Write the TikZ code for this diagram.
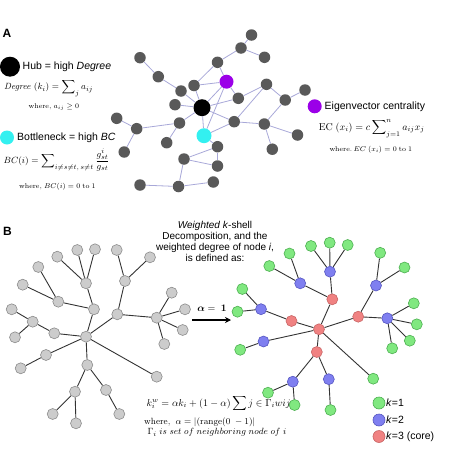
\documentclass[tikz,border=0pt]{standalone}
\usepackage{amsmath,amssymb}
\usepackage[no-math]{fontspec}
\setmainfont{Liberation Sans}
\usetikzlibrary{arrows.meta}
\definecolor{edgeA}{HTML}{A8A8D8}
\definecolor{nodeA}{HTML}{595959}
\definecolor{hubc}{HTML}{000000}
\definecolor{purp}{HTML}{9B00E8}
\definecolor{cyanc}{HTML}{33F0F0}
\definecolor{grayfill}{HTML}{CCCCCC}
\definecolor{graydraw}{HTML}{8C8C8C}
\definecolor{edgeB}{HTML}{333333}
\definecolor{kone}{HTML}{80E880}
\definecolor{konedraw}{HTML}{4CAF50}
\definecolor{ktwo}{HTML}{7F7FF0}
\definecolor{ktwodraw}{HTML}{5555C0}
\definecolor{kthree}{HTML}{F08282}
\definecolor{kthreedraw}{HTML}{C86464}
\tikzset{
  an/.style={circle,fill=nodeA,inner sep=0pt,minimum size=11.5pt},
  hubn/.style={circle,fill=hubc,inner sep=0pt,minimum size=17pt},
  purn/.style={circle,fill=purp,inner sep=0pt,minimum size=14pt},
  cyn/.style={circle,fill=cyanc,inner sep=0pt,minimum size=15pt},
  ea/.style={draw=edgeA,line width=0.8pt},
  gb/.style={circle,fill=grayfill,draw=graydraw,line width=0.6pt,inner sep=0pt,minimum size=11pt},
  k1/.style={circle,fill=kone,draw=konedraw,line width=0.6pt,inner sep=0pt,minimum size=11pt},
  k2/.style={circle,fill=ktwo,draw=ktwodraw,line width=0.6pt,inner sep=0pt,minimum size=11pt},
  k3/.style={circle,fill=kthree,draw=kthreedraw,line width=0.6pt,inner sep=0pt,minimum size=11pt},
  eb/.style={draw=edgeB,line width=0.9pt},
  txt/.style={anchor=west,inner sep=0pt,font=\fontsize{10.5}{12}\selectfont},
  mth/.style={anchor=west,inner sep=0pt,font=\fontsize{9.5}{11}\selectfont},
  small/.style={anchor=west,inner sep=0pt,font=\fontsize{7.5}{9}\selectfont},
  lbl/.style={inner sep=0pt,font=\fontsize{12}{14}\selectfont\bfseries},
}
\begin{document}
\begin{tikzpicture}[x=1pt,y=-1pt]
\useasboundingbox (0,0) rectangle (474,474);
% ---------- Panel A ----------
\node[lbl] (labA) at (7,33.5) {A};
\node[an] (a1) at (251.5,35) {};
\node[an] (a2) at (241,48) {};
\node[an] (a3) at (264.5,57.3) {};
\node[an] (a4) at (217.5,62.3) {};
\node[an] (a5) at (140,57.7) {};
\node[an] (a6) at (158.3,76.7) {};
\node[an] (a7) at (181,91) {};
\node[an] (a8) at (194,85.5) {};
\node[an] (a9) at (238.3,98.3) {};
\node[an] (a10) at (266.5,84.3) {};
\node[an] (a11) at (285.2,100) {};
\node[an] (a12) at (305,90) {};
\node[an] (a13) at (175,104.7) {};
\node[an] (a14) at (234.2,121.7) {};
\node[an] (a15) at (264.3,124) {};
\node[an] (a16) at (297.5,135) {};
\node[an] (a17) at (272.3,149.2) {};
\node[an] (a18) at (179.5,123) {};
\node[an] (a19) at (116.7,118.3) {};
\node[an] (a20) at (136.7,128.7) {};
\node[an] (a21) at (124.2,152) {};
\node[an] (a22) at (166.7,142.7) {};
\node[an] (a23) at (217.5,146.7) {};
\node[an] (a24) at (184,159) {};
\node[an] (a25) at (217.5,166) {};
\node[an] (a26) at (213.3,182) {};
\node[an] (a27) at (178.5,186.5) {};
\node[an] (a28) at (140,185) {};
\node[purn] (P) at (226.5,81.7) {};
\node[hubn] (H) at (202,107.7) {};
\node[cyn] (C) at (204,135.7) {};
\foreach \u/\v in {a1/a2,a2/a3,a2/a4,a4/a8,a4/P,a5/a6,a6/a7,a7/H,a8/H,a8/P,a13/H,P/H,P/a9,P/C,H/a9,H/a14,H/C,H/a18,a18/a20,a18/a22,a19/a20,a20/a21,C/a14,a14/a10,a9/a10,a10/a11,a11/a12,a11/a15,a14/a15,a15/a16,a15/a17,C/a23,a23/a24,a23/a25,a24/a25,a24/a27,a27/a26,a27/a28}
  \draw[ea] (\u) -- (\v);
% legends A
\node[circle,fill=hubc,inner sep=0pt,minimum size=20pt] (lh) at (10,66.7) {};
\node[txt] (th) at (22.5,66.7) {Hub = high \textit{Degree}};
\node[mth] (fh) at (4,88.5) {$\mathit{Degree}\ (k_i) = \displaystyle\sum\nolimits_j a_{ij}$};
\node[small] (wh) at (28.5,107.3) {$\mathrm{where,}\ a_{ij}\geq 0$};
\node[circle,fill=cyanc,inner sep=0pt,minimum size=14pt] (lc) at (7,137.5) {};
\node[txt] (tc) at (17,137.7) {Bottleneck = high \textit{BC}};
\node[mth] (fc) at (3.5,160) {$BC(i) = \displaystyle\sum\nolimits_{i\neq s\neq t,\, s\neq t} \frac{g^{i}_{st}}{g_{st}}$};
\node[small] (wc) at (19,186.7) {$\mathrm{where,}\ BC(i) = \mathrm{0\ to\ 1}$};
\node[circle,fill=purp,inner sep=0pt,minimum size=14pt] (lp) at (314.7,106.3) {};
\node[txt] (tp) at (324.5,106.5) {Eigenvector centrality};
\node[mth,font=\fontsize{10}{12}\selectfont] (fp) at (318.7,128.5) {$\mathrm{EC}\ (x_i) = c\displaystyle\sum\nolimits_{j=1}^{n} a_{ij}x_j$};
\node[small] (wp) at (329.3,150) {$\mathrm{where.}\,EC\ (x_i) = \mathrm{0\ to\ 1}$};
% ---------- Panel B ----------
\node[lbl] (labB) at (7.5,231.7) {B};
\node[inner sep=0pt,align=center,font=\fontsize{10}{11}\selectfont] (hdr) at (215,241.5) {\textit{Weighted k}-shell\\Decomposition, and the\\weighted degree of node \textit{i},\\is defined as:};
% gray tree
\node[gb] (G0) at (86,336.7) {};
\node[gb] (g1) at (94,309.3) {};
\node[gb] (g2) at (86,283.3) {};
\node[gb] (g3) at (57.3,256.7) {};
\node[gb] (g4) at (77.3,250) {};
\node[gb] (g5) at (95,249.3) {};
\node[gb] (g6) at (58.3,301.7) {};
\node[gb] (g7) at (38.3,267) {};
\node[gb] (g8) at (22.7,284.7) {};
\node[gb] (g9) at (117.3,314.3) {};
\node[gb] (g10) at (125,281) {};
\node[gb] (g11) at (116.7,250) {};
\node[gb] (g12) at (150,257.3) {};
\node[gb] (g13) at (156.7,317.7) {};
\node[gb] (g14) at (171.7,292.7) {};
\node[gb] (g15) at (185,309.3) {};
\node[gb] (g16) at (182.7,330) {};
\node[gb] (g17) at (164.3,344) {};
\node[gb] (g18) at (54.3,333.3) {};
\node[gb] (g19) at (32.7,321.7) {};
\node[gb] (g20) at (11.7,309.3) {};
\node[gb] (g21) at (15,337.3) {};
\node[gb] (g22) at (46,355) {};
\node[gb] (g23) at (20.7,368.3) {};
\node[gb] (g24) at (87.3,365) {};
\node[gb] (g25) at (75,391.7) {};
\node[gb] (g26) at (52.7,414) {};
\node[gb] (g27) at (76,423.3) {};
\node[gb] (g28) at (106,390) {};
\node[gb] (g29) at (119.3,414) {};
\node[gb] (g30) at (156.7,376.7) {};
\foreach \u/\v in {G0/g1,g1/g2,g2/g3,g2/g4,g2/g5,g1/g6,g6/g7,g6/g8,G0/g9,g9/g10,g10/g11,g10/g12,g9/g13,g13/g14,g13/g15,g13/g16,g13/g17,G0/g18,g18/g19,g19/g20,g19/g21,G0/g22,g22/g23,G0/g24,g24/g25,g25/g26,g25/g27,g24/g28,g28/g29,G0/g30}
  \draw[eb] (\u) -- (\v);
% arrow
\coordinate (arS) at (192,320);
\coordinate (arE) at (231,320);
\draw[line width=1.6pt,-{Stealth[length=6pt,width=6pt]}] (arS) -- (arE);
\node[inner sep=0pt,font=\fontsize{10}{12}\selectfont] (alp) at (212,308.5) {$\boldsymbol{\alpha}\ \mathbf{=\ 1}$};
% coloured tree
\node[k3] (R0) at (319,329.3) {};
\node[k3] (r1) at (332.3,299.3) {};
\node[k2] (b1) at (330,271.7) {};
\node[k1] (l1) at (311,246) {};
\node[k1] (l2) at (329.7,242.7) {};
\node[k1] (l3) at (347.7,245) {};
\node[k2] (b2) at (300.2,283.3) {};
\node[k1] (l4) at (289.5,253.5) {};
\node[k1] (l5) at (269.3,266) {};
\node[k3] (r2) at (291.5,321) {};
\node[k2] (b3) at (261,309.2) {};
\node[k1] (l6) at (242.3,289) {};
\node[k1] (l7) at (237.5,311.7) {};
\node[k2] (b4) at (263.5,341.5) {};
\node[k1] (l8) at (240.2,349.8) {};
\node[k3] (r3) at (358.2,316.7) {};
\node[k2] (b5) at (376,285.5) {};
\node[k1] (l9) at (380.2,252.8) {};
\node[k1] (l10) at (404.5,267.5) {};
\node[k2] (b6) at (387.3,318.3) {};
\node[k1] (l11) at (413.8,303.3) {};
\node[k1] (l12) at (416.8,324.3) {};
\node[k1] (l13) at (409.8,340.7) {};
\node[k1] (l14) at (392.2,348.3) {};
\node[k3] (r4) at (316.8,352) {};
\node[k2] (b7) at (292.8,381.7) {};
\node[k1] (l15) at (268,392.7) {};
\node[k1] (l16) at (294.6,405) {};
\node[k2] (b8) at (328.8,379.2) {};
\node[k1] (l17) at (330.5,410) {};
\node[k1] (l18) at (373.2,378.7) {};
\foreach \u/\v in {R0/r1,r1/b1,b1/l1,b1/l2,b1/l3,r1/b2,b2/l4,b2/l5,R0/r2,r2/b3,b3/l6,b3/l7,R0/b4,b4/l8,R0/r3,r3/b5,b5/l9,b5/l10,r3/b6,b6/l11,b6/l12,b6/l13,b6/l14,R0/r4,r4/b7,b7/l15,b7/l16,r4/b8,b8/l17,R0/l18}
  \draw[eb] (\u) -- (\v);
% formula B
\node[mth,font=\fontsize{10}{11}\selectfont] (fb1) at (146.5,403.5) {$k_i^{w} = \alpha k_i + (1-\alpha)\displaystyle\sum\nolimits j \in \Gamma_i wij$};
\node[mth,font=\fontsize{9.5}{11}\selectfont] (fb2) at (144,422) {$\mathrm{where,}\ \ \alpha = |(\mathrm{range}(0\ -1)|$};
\node[mth,font=\fontsize{9.5}{11}\selectfont] (fb3) at (147.5,432.3) {$\Gamma_i\ is\ set\ of\ neighboring\ node\ of\ i$};
% legend B
\node[k1,minimum size=12pt] (lg1) at (379,403) {};
\node[k2,minimum size=12pt] (lg2) at (379,420) {};
\node[k3,minimum size=12pt] (lg3) at (379,436.5) {};
\node[txt] (tg1) at (386,403) {\textit{k}=1};
\node[txt] (tg2) at (386,420) {\textit{k}=2};
\node[txt] (tg3) at (386,436.5) {\textit{k}=3 (core)};
\end{tikzpicture}
\end{document}
